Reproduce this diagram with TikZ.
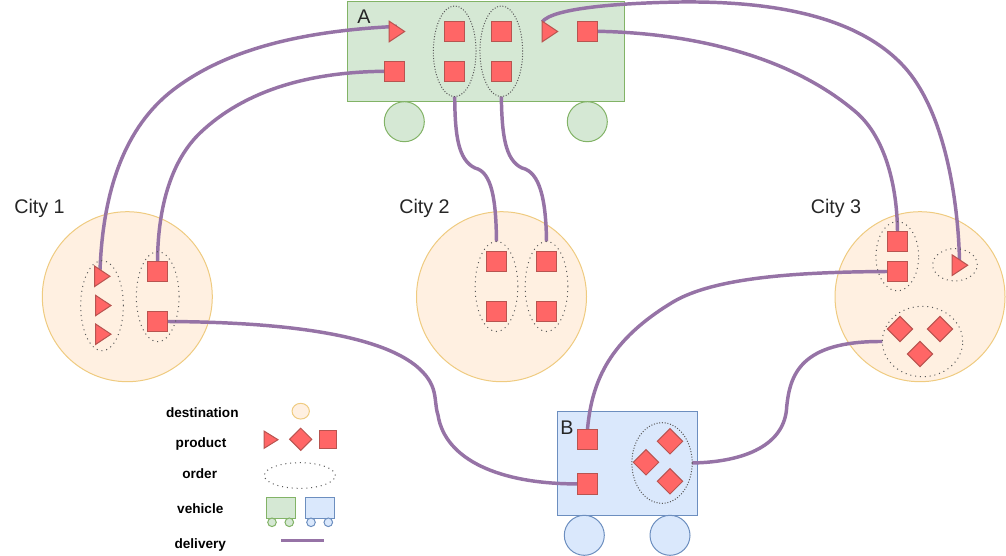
\documentclass[tikz,border=0pt]{standalone}
\usepackage{fontspec}
\setmainfont{Liberation Sans}
\usetikzlibrary{shapes.geometric}
\definecolor{greenF}{HTML}{D5E8D4}\definecolor{greenS}{HTML}{82B366}
\definecolor{blueF}{HTML}{DAE8FC}\definecolor{blueS}{HTML}{6C8EBF}
\definecolor{cityF}{HTML}{FFF0E1}\definecolor{cityS}{HTML}{EFCB80}
\definecolor{redF}{HTML}{FF6666}\definecolor{redS}{HTML}{B85450}
\definecolor{purp}{HTML}{9673A6}
\pgfdeclarelayer{bg}\pgfdeclarelayer{mid}
\pgfsetlayers{bg,mid,main}
\tikzset{
  x=0.75pt,y=-0.75pt,
  base/.style={inner sep=0pt,outer sep=0pt,line width=0.75pt},
  prod/.style={base,draw=redS,fill=redF},
  sq/.style={prod,rectangle,minimum size=15.2pt},
  lsq/.style={prod,rectangle,minimum size=13.4pt},
  dia/.style={prod,diamond,minimum size=19pt},
  ldia/.style={prod,diamond,minimum size=16.6pt},
  tri/.style={prod,isosceles triangle,isosceles triangle stretches,minimum width=15.4pt,minimum height=11.6pt,anchor=apex},
  ltri/.style={prod,isosceles triangle,isosceles triangle stretches,minimum width=13pt,minimum height=10.5pt,anchor=apex},
  order/.style 2 args={base,ellipse,draw=black!65,dash pattern=on 0.75pt off 2.9pt,minimum width=#1*0.75pt,minimum height=#2*0.75pt},
  dense/.style={dash pattern=on 0.75pt off 1.3pt},
  city/.style={base,circle,draw=cityS,fill=cityF,minimum size=127.5pt},
  gbody/.style={base,rectangle,draw=greenS,fill=greenF},
  bbody/.style={base,rectangle,draw=blueS,fill=blueF},
  gwheel/.style={base,circle,draw=greenS,fill=greenF,minimum size=#1*1.5pt},
  bwheel/.style={base,circle,draw=blueS,fill=blueF,minimum size=#1*1.5pt},
  delivery/.style={draw=purp,line width=2.6pt},
  big/.style={inner sep=0pt,text=black!85,font=\fontsize{14.8pt}{17pt}\selectfont},
  leg/.style={inner sep=0pt,font=\bfseries\fontsize{10.2pt}{12pt}\selectfont},
}
\begin{document}
\begin{tikzpicture}
\useasboundingbox (0,0) rectangle (1006,556);
% background bodies
\begin{pgfonlayer}{bg}
\node[gbody,minimum width=207.75pt,minimum height=75pt] (A) at (485.8,51.3) {};
\node[gwheel=20] (wa1) at (404.3,121.7) {};
\node[gwheel=20] (wa2) at (587.3,121.7) {};
\node[bbody,minimum width=105pt,minimum height=77.7pt] (B) at (627.3,463.5) {};
\node[bwheel=20] (wb1) at (584.3,535.3) {};
\node[bwheel=20] (wb2) at (670,535.3) {};
\node[city] (c1) at (127.3,296.7) {};
\node[city] (c2) at (501.5,296.7) {};
\node[city] (c3) at (920,296.7) {};
\end{pgfonlayer}
% labels
\node[big] (la) at (364,16.5) {A};
\node[big] (lb) at (567,428) {B};
\node[big] (l1) at (39.5,208.5) {City 1};
\node[big] (l2) at (424.5,208.5) {City 2};
\node[big] (l3) at (836,208.5) {City 3};
% vehicle A
\node[tri] (at1) at (404.7,31.5) {};
\node[tri] (at2) at (557.7,31.5) {};
\node[sq] (as1) at (394.5,71.3) {};
\node[sq] (as2) at (454.4,31.3) {};
\node[sq] (as3) at (454.4,71.3) {};
\node[sq] (as4) at (501.4,31.3) {};
\node[sq] (as5) at (501.4,71.3) {};
\node[sq] (as6) at (587.5,31.3) {};
\node[order={42.7}{90.7},dense] (oa1) at (454.7,51.3) {};
\node[order={42.7}{90.7},dense] (oa2) at (501.3,51.3) {};
% vehicle B
\node[sq] (bs1) at (587.5,439.2) {};
\node[sq] (bs2) at (587.5,483.9) {};
\node[dia] (bd1) at (670,441.3) {};
\node[dia] (bd2) at (646,462.3) {};
\node[dia] (bd3) at (670,481.3) {};
\node[order={60.3}{80.6},dense] (ob) at (662,463) {};
% city 1
\node[tri] (ct1) at (110,276.3) {};
\node[tri] (ct2) at (111,305.5) {};
\node[tri] (ct3) at (111,334.2) {};
\node[sq] (cs1) at (157.5,271.5) {};
\node[sq] (cs2) at (157.5,321.5) {};
\node[order={42.7}{90}] (oc1) at (102,305.7) {};
\node[order={42.7}{90}] (oc2) at (157.7,296.7) {};
% city 2
\node[sq] (ds1) at (496.5,261.5) {};
\node[sq] (ds2) at (496.5,311.5) {};
\node[sq] (ds3) at (546.5,261.5) {};
\node[sq] (ds4) at (546.5,311.5) {};
\node[order={42.7}{90}] (od1) at (496.5,286.5) {};
\node[order={42.7}{90}] (od2) at (546.5,286.5) {};
% city 3
\node[sq] (es1) at (897.5,241.5) {};
\node[sq] (es2) at (897.5,271.5) {};
\node[tri] (et) at (967.7,265.2) {};
\node[dia] (ed1) at (900,329) {};
\node[dia] (ed2) at (940,329) {};
\node[dia] (ed3) at (920,354) {};
\node[order={42.7}{69.3}] (oe1) at (897.3,256.3) {};
\node[order={44.6}{32.3}] (oe2) at (955,264.8) {};
\node[order={80.4}{70.4}] (oe3) at (922.5,341.5) {};
% legend
\node[leg] (t1) at (202.3,412.3) {destination};
\node[leg] (t2) at (201,444) {product};
\node[leg] (t3) at (199.7,473.3) {order};
\node[leg] (t4) at (200.3,508.3) {vehicle};
\node[leg] (t5) at (200.3,545) {delivery};
\node[base,ellipse,draw=cityS,fill=cityF,minimum width=13pt,minimum height=11.8pt] (k1) at (300.7,411.2) {};
\node[ltri] (k2) at (278,439.7) {};
\node[ldia] (k3) at (300.7,439.3) {};
\node[lsq] (k4) at (328,439.5) {};
\node[order={71}{25.6}] (k5) at (299.8,475.5) {};
\node[gbody,minimum width=21.5pt,minimum height=16pt] (k6) at (281.3,508) {};
\node[gwheel=4.3] (k7) at (272,522.3) {};
\node[gwheel=4.3] (k8) at (289.3,522.3) {};
\node[bbody,minimum width=21.3pt,minimum height=16pt] (k9) at (319.8,508) {};
\node[bwheel=4.3] (k10) at (311,522.3) {};
\node[bwheel=4.3] (k11) at (328.3,522.3) {};
\coordinate (k12) at (281,540.7);
\coordinate (k13) at (323.7,540.7);
\coordinate (p6end) at (959.5,260);
% connectors
\begin{pgfonlayer}{mid}
\draw[delivery] (k12) -- (k13);
\draw[delivery] (at1.left side) .. controls (300,31) and (225,50) .. (173,90)
  .. controls (125,127) and (103,190) .. (ct1.north);
\draw[delivery] (as1.west) .. controls (310,72) and (245,90) .. (200,133)
  .. controls (172,160) and (158,205) .. (cs1.north);
\draw[delivery] (oa1.south) .. controls (455,135) and (458,160) .. (475,168)
  .. controls (492,172) and (496,200) .. (od1.north);
\draw[delivery] (oa2.south) .. controls (502,135) and (505,160) .. (522,168)
  .. controls (540,172) and (546,200) .. (od2.north);
\draw[delivery] (as6.east) .. controls (690,33) and (790,55) .. (857,113)
  .. controls (885,138) and (897,185) .. (es1.north);
\draw[delivery] (at2.120) .. controls (552,8) and (620,3) .. (680,2)
  .. controls (770,1) and (860,15) .. (907,70)
  .. controls (945,115) and (958,200) .. (p6end);
\draw[delivery] (cs2.east) .. controls (260,322) and (370,330) .. (415,365)
  .. controls (440,385) and (433,400) .. (438,415)
  .. controls (445,460) and (500,484) .. (bs2.west);
\draw[delivery] (bs1.north) .. controls (592,380) and (610,340) .. (673,302)
  .. controls (715,277) and (800,272) .. (es2.west);
\draw[delivery] (ob.east) .. controls (745,462) and (785,445) .. (786.7,406.7)
  .. controls (790,375) and (800,341) .. (oe3.west);
\end{pgfonlayer}
\end{tikzpicture}
\end{document}
